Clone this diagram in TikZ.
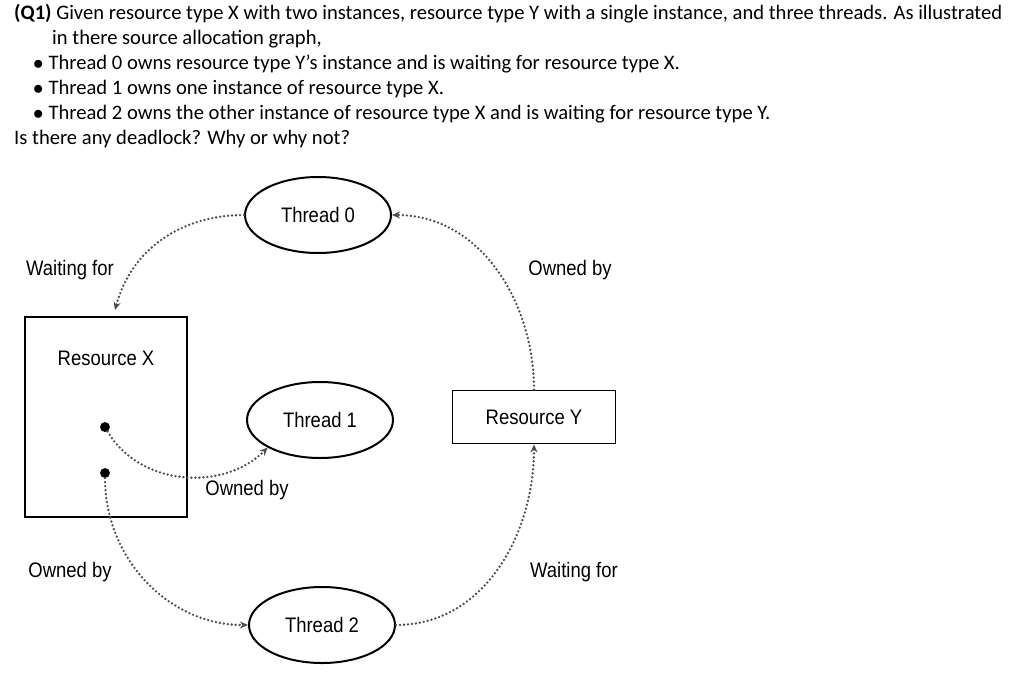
\documentclass[tikz,border=0pt]{standalone}
\usepackage{fontspec}
\setmainfont{Carlito}
\newfontfamily\figfont{Liberation Sans}[FakeStretch=0.88]
\usetikzlibrary{shapes.geometric, arrows.meta}
\tikzset{
    thread-node/.style = {draw, line width=2pt, ellipse, minimum width=146pt, minimum height=76pt, font=\figfont\fontsize{21}{23}\selectfont},
    res-box/.style = {draw, line width=1.8pt, rectangle, font=\figfont\fontsize{21}{23}\selectfont},
    edge-label/.style = {font=\figfont\fontsize{21}{23}\selectfont},
    dotted-arrow/.style = {-{Stealth[length=8pt, width=7pt]}, line width=2.6pt, line cap=round, dash pattern=on 0pt off 4pt, gray!60!black},
    q-line/.style = {anchor=base west, inner sep=0pt, font=\fontsize{20.6}{25}\selectfont},
}

\begin{document}
\begin{tikzpicture}[x=1pt, y=-1pt]
\useasboundingbox (0,0) rectangle (1024,675);
% question text
\node[q-line] (q1) at (14,19) {\textbf{(Q1)} Given resource type X with two instances, resource type Y with a single instance, and three threads. As illustrated};
\node[q-line] (q2) at (52,44) {in there source allocation graph,};
\node[q-line] (b1) at (33,69) {$\bullet$\hspace{5pt}Thread 0 owns resource type Y’s instance and is waiting for resource type X.};
\node[q-line] (b2) at (33,94) {$\bullet$\hspace{5pt}Thread 1 owns one instance of resource type X.};
\node[q-line] (b3) at (33,119) {$\bullet$\hspace{5pt}Thread 2 owns the other instance of resource type X and is waiting for resource type Y.};
\node[q-line] (q3) at (14,144) {Is there any deadlock? Why or why not?};

% graph
\node[thread-node] (t0) at (318,215) {Thread 0};
\node[thread-node] (t1) at (320,420) {Thread 1};
\node[thread-node] (t2) at (322,625) {Thread 2};
\node[res-box, minimum width=162pt, minimum height=200pt] (rx) at (106,417) {};
\node[font=\figfont\fontsize{21}{23}\selectfont] (rxlabel) at (106,358) {Resource X};
\node[res-box, minimum width=163pt, minimum height=53pt] (ry) at (534,417) {Resource Y};
\node[circle, fill, inner sep=3.5pt] (i1) at (105,427) {};
\node[circle, fill, inner sep=3.5pt] (i2) at (105,473) {};

\draw[dotted-arrow] (t0.west) to[out=180, in=75] (115,310);
\draw[dotted-arrow] (ry.north) to[out=90, in=0] (t0.east);
\draw[dotted-arrow] (i1) to[out=-60, in=-135] (t1.south west);
\draw[dotted-arrow] (i2) to[out=-90, in=180] (t2.west);
\draw[dotted-arrow] (t2.east) to[out=0, in=-90] (ry.south);

\node[edge-label] (l1) at (70,270) {Waiting for};
\node[edge-label] (l2) at (570,270) {Owned by};
\node[edge-label] (l3) at (247,490) {Owned by};
\node[edge-label] (l4) at (70,572) {Owned by};
\node[edge-label] (l5) at (574,572) {Waiting for};
\end{tikzpicture}
\end{document}
